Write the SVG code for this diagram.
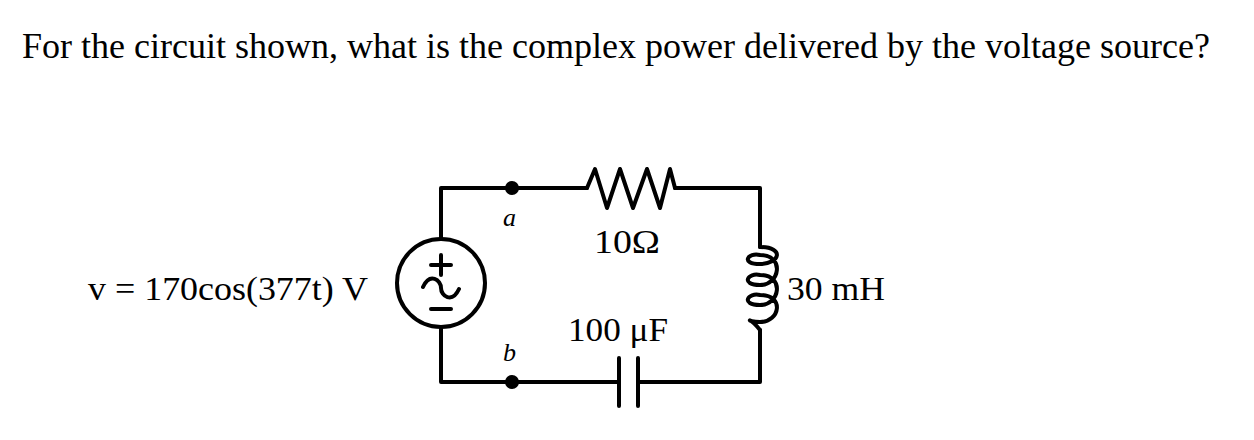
<svg xmlns="http://www.w3.org/2000/svg" width="1254" height="440" viewBox="0 0 1254 440">
<style>
.w{fill:none;stroke:#000;stroke-width:4;stroke-linejoin:round;stroke-linecap:round}
.t{font-family:"Liberation Serif",serif;fill:#000}
</style>
<rect width="1254" height="440" fill="#fff"/>
<text class="t" x="22" y="58" font-size="35" textLength="1188" lengthAdjust="spacingAndGlyphs">For the circuit shown, what is the complex power delivered by the voltage source?</text>
<g id="connectors">
<path class="w" d="M441,239 V188 H587 M675,188 H760 V247 M760,330 V382 H638 M619,382 H441 V327"/>
</g>
<g id="source">
<circle class="w" cx="441" cy="283" r="44"/>
<path class="w" d="M441,255 V275 M431,265 H451 M423,287 C430,272 441,280 441,288 C441,296 452,304 459,289 M431,309 H451"/>
</g>
<g id="node-a"><circle cx="512" cy="188" r="7"/><text class="t" x="503" y="226" font-size="26" font-style="italic">a</text></g>
<g id="node-b"><circle cx="512" cy="382" r="7"/><text class="t" x="503" y="361" font-size="26" font-style="italic">b</text></g>
<g id="resistor">
<path class="w" d="M587,188 L595,169 L607,208 L620,169 L633,208 L647,169 L660,208 L670,169 L675,188"/>
<text class="t" x="594" y="253" font-size="33" textLength="66" lengthAdjust="spacingAndGlyphs">10Ω</text>
</g>
<g id="inductor">
<path class="w" d="M760,247 C785,247 780,264 760,264 C740,264 748,252 760,255 C785,255 780,285 760,285 C740,285 748,272 760,275 C785,275 780,305 760,305 C740,305 748,292 760,295 C785,295 780,322 760,322 C745,322 748,315 760,330"/>
<text class="t" x="787" y="300" font-size="33" textLength="98" lengthAdjust="spacingAndGlyphs">30 mH</text>
</g>
<g id="capacitor">
<path class="w" d="M619,358 V406 M638,358 V406"/>
<text class="t" x="568" y="341" font-size="33" textLength="100" lengthAdjust="spacingAndGlyphs">100 μF</text>
</g>
<text class="t" x="88" y="300" font-size="33" textLength="280" lengthAdjust="spacingAndGlyphs">v = 170cos(377t) V</text>
</svg>
